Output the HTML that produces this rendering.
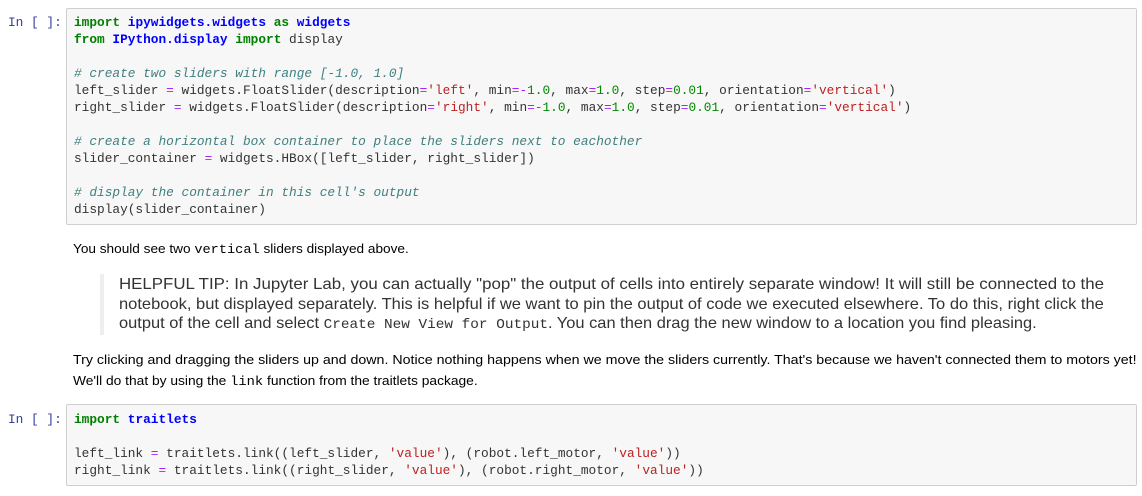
<!DOCTYPE html>
<html><head><meta charset="utf-8"><style>
body{margin:0;width:1142px;height:496px;background:#fff;position:relative;overflow:hidden;font-family:"Liberation Sans",Arial,sans-serif;color:#000}
.p{position:absolute;left:8px;font-family:"Liberation Mono",monospace;font-size:12.8px;color:#303F9F;line-height:17px}
.cell{position:absolute;left:66px;width:1069px;background:#f7f7f7;border:1px solid #cfcfcf;border-radius:2px}
.code{position:absolute;left:7px;font-family:"Liberation Mono",monospace;font-size:12.8px;line-height:17px;white-space:pre;color:#333}
.k{color:#008000;font-weight:bold}.n{color:#0000FF;font-weight:bold}.c{color:#408080;font-style:italic}.s{color:#BA2121}.o{color:#AA22FF}.m{color:#008800}
.t{position:absolute;white-space:nowrap;color:#000;transform-origin:0 50%}
.sm{font-size:13px;line-height:21px;left:73px}
.bq{font-size:16px;line-height:19.5px;left:119px;color:#333}
.mono{font-family:"Liberation Mono",monospace}
</style></head><body>
<div class="p" style="top:14px">In&nbsp;[&nbsp;]:</div>
<div class="cell" style="top:8px;height:215px">
<div class="code" style="top:5px"><span class="k">import</span> <span class="n">ipywidgets.widgets</span> <span class="k">as</span> <span class="n">widgets</span>
<span class="k">from</span> <span class="n">IPython.display</span> <span class="k">import</span> display

<span class="c"># create two sliders with range [-1.0, 1.0]</span>
left_slider <span class="o">=</span> widgets.FloatSlider(description<span class="o">=</span><span class="s">'left'</span>, min<span class="o">=-</span><span class="m">1.0</span>, max<span class="o">=</span><span class="m">1.0</span>, step<span class="o">=</span><span class="m">0.01</span>, orientation<span class="o">=</span><span class="s">'vertical'</span>)
right_slider <span class="o">=</span> widgets.FloatSlider(description<span class="o">=</span><span class="s">'right'</span>, min<span class="o">=-</span><span class="m">1.0</span>, max<span class="o">=</span><span class="m">1.0</span>, step<span class="o">=</span><span class="m">0.01</span>, orientation<span class="o">=</span><span class="s">'vertical'</span>)

<span class="c"># create a horizontal box container to place the sliders next to eachother</span>
slider_container <span class="o">=</span> widgets.HBox([left_slider, right_slider])

<span class="c"># display the container in this cell's output</span>
display(slider_container)</div>
</div>
<div class="t sm" style="top:238px;transform:scaleX(1.047)">You should see two <span class="mono">vertical</span> sliders displayed above.</div>
<div style="position:absolute;left:100px;top:274px;width:4px;height:61px;background:#eee"></div>
<div class="t bq" style="top:275px;transform:scaleX(1.054)">HELPFUL TIP: In Jupyter Lab, you can actually "pop" the output of cells into entirely separate window! It will still be connected to the</div>
<div class="t bq" style="top:294.5px;transform:scaleX(1.031)">notebook, but displayed separately. This is helpful if we want to pin the output of code we executed elsewhere. To do this, right click the</div>
<div class="t bq" style="top:314px;transform:scaleX(1.027)">output of the cell and select <span class="mono" style="font-size:14px">Create New View for Output</span>. You can then drag the new window to a location you find pleasing.</div>
<div class="t sm" style="top:349px;transform:scaleX(1.093)">Try clicking and dragging the sliders up and down. Notice nothing happens when we move the sliders currently. That's because we haven't connected them to motors yet!</div>
<div class="t sm" style="top:370px;transform:scaleX(1.06)">We'll do that by using the <span class="mono">link</span> function from the traitlets package.</div>
<div class="p" style="top:411px">In&nbsp;[&nbsp;]:</div>
<div class="cell" style="top:404px;height:80px">
<div class="code" style="top:6px"><span class="k">import</span> <span class="n">traitlets</span>

left_link <span class="o">=</span> traitlets.link((left_slider, <span class="s">'value'</span>), (robot.left_motor, <span class="s">'value'</span>))
right_link <span class="o">=</span> traitlets.link((right_slider, <span class="s">'value'</span>), (robot.right_motor, <span class="s">'value'</span>))</div>
</div>
</body></html>
